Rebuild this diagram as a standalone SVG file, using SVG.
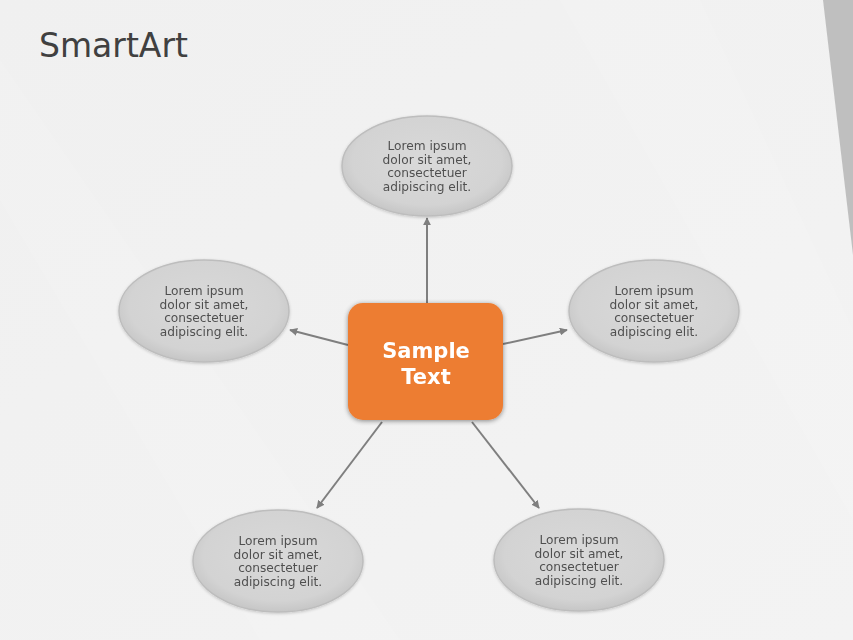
<svg xmlns="http://www.w3.org/2000/svg" width="853" height="640" viewBox="0 0 853 640">
<style>
.bub{fill:url(#bubg);stroke:#bdbdbd;stroke-width:1.5}
.bt{font-family:"DejaVu Sans",Verdana,sans-serif;font-size:12.2px;fill:#505050;text-anchor:middle}
.con{stroke:#7f7f7f;stroke-width:2;fill:none;marker-end:url(#ah)}
</style>
<defs>
<radialGradient id="bubg" cx="50%" cy="45%" r="55%">
<stop offset="0" stop-color="#d9d9d9"/>
<stop offset="0.8" stop-color="#d3d3d3"/>
<stop offset="1" stop-color="#c6c6c6"/>
</radialGradient>
<linearGradient id="bg" x1="0" y1="0" x2="1" y2="1">
<stop offset="0" stop-color="#f0f0f0"/>
<stop offset="1" stop-color="#f3f3f3"/>
</linearGradient>
<filter id="sh" x="-20%" y="-20%" width="140%" height="140%">
<feGaussianBlur in="SourceAlpha" stdDeviation="2.5"/>
<feOffset dx="0" dy="1" result="b"/>
<feComponentTransfer><feFuncA type="linear" slope="0.45"/></feComponentTransfer>
<feMerge><feMergeNode/><feMergeNode in="SourceGraphic"/></feMerge>
</filter>
<filter id="sh2" x="-20%" y="-20%" width="140%" height="140%">
<feGaussianBlur in="SourceAlpha" stdDeviation="1.5"/>
<feOffset dx="0" dy="1"/>
<feComponentTransfer><feFuncA type="linear" slope="0.2"/></feComponentTransfer>
<feMerge><feMergeNode/><feMergeNode in="SourceGraphic"/></feMerge>
</filter>
<marker id="ah" viewBox="0 0 10 10" refX="9" refY="5" markerWidth="8" markerHeight="8" markerUnits="userSpaceOnUse" orient="auto">
<path d="M0,0 L10,5 L0,10 z" fill="#7f7f7f"/>
</marker>
</defs>
<g id="background">
<rect width="853" height="640" fill="url(#bg)"/>
<polygon points="0,60 0,200 260,640 400,640" fill="#ffffff" opacity="0.12"/>
<polygon points="560,0 700,0 853,330 853,520" fill="#ffffff" opacity="0.12"/>
<polygon points="823,0 853,0 853,255" fill="#bfbfbf"/>
</g>
<g id="title">
<text x="39" y="57" font-family="DejaVu Sans,Verdana,sans-serif" font-size="33" fill="#404040">SmartArt</text>
</g>
<g id="connectors">
<line class="con" x1="427" y1="303" x2="427" y2="218"/>
<line class="con" x1="348" y1="345" x2="290" y2="330"/>
<line class="con" x1="503" y1="344" x2="567" y2="330"/>
<line class="con" x1="382" y1="422" x2="317" y2="508"/>
<line class="con" x1="472" y1="422" x2="539" y2="508"/>
</g>
<g id="center" filter="url(#sh)">
<rect x="348" y="303" width="155" height="117" rx="15" fill="#ed7d31"/>
<text x="426" y="358" font-family="DejaVu Sans,Verdana,sans-serif" font-size="21" font-weight="bold" fill="#ffffff" text-anchor="middle">Sample</text>
<text x="426" y="384" font-family="DejaVu Sans,Verdana,sans-serif" font-size="21" font-weight="bold" fill="#ffffff" text-anchor="middle">Text</text>
</g>
<g id="node-top" filter="url(#sh2)">
<ellipse class="bub" cx="427" cy="166" rx="85" ry="50"/>
<text class="bt" x="427" y="150">Lorem ipsum</text>
<text class="bt" x="427" y="163.5">dolor sit amet,</text>
<text class="bt" x="427" y="177">consectetuer</text>
<text class="bt" x="427" y="190.5">adipiscing elit.</text>
</g>
<g id="node-left" filter="url(#sh2)">
<ellipse class="bub" cx="204" cy="311" rx="85" ry="51"/>
<text class="bt" x="204" y="295">Lorem ipsum</text>
<text class="bt" x="204" y="308.5">dolor sit amet,</text>
<text class="bt" x="204" y="322">consectetuer</text>
<text class="bt" x="204" y="335.5">adipiscing elit.</text>
</g>
<g id="node-right" filter="url(#sh2)">
<ellipse class="bub" cx="654" cy="311" rx="85" ry="51"/>
<text class="bt" x="654" y="295">Lorem ipsum</text>
<text class="bt" x="654" y="308.5">dolor sit amet,</text>
<text class="bt" x="654" y="322">consectetuer</text>
<text class="bt" x="654" y="335.5">adipiscing elit.</text>
</g>
<g id="node-bottom-left" filter="url(#sh2)">
<ellipse class="bub" cx="278" cy="561" rx="85" ry="51"/>
<text class="bt" x="278" y="545">Lorem ipsum</text>
<text class="bt" x="278" y="558.5">dolor sit amet,</text>
<text class="bt" x="278" y="572">consectetuer</text>
<text class="bt" x="278" y="585.5">adipiscing elit.</text>
</g>
<g id="node-bottom-right" filter="url(#sh2)">
<ellipse class="bub" cx="579" cy="560" rx="85" ry="51"/>
<text class="bt" x="579" y="544">Lorem ipsum</text>
<text class="bt" x="579" y="557.5">dolor sit amet,</text>
<text class="bt" x="579" y="571">consectetuer</text>
<text class="bt" x="579" y="584.5">adipiscing elit.</text>
</g>
</svg>
